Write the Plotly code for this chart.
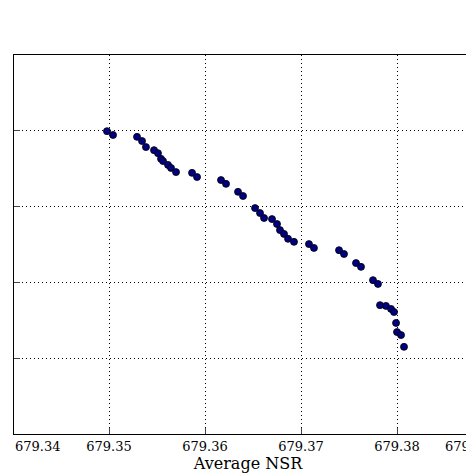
import plotly.graph_objects as go

avg_nsr = [679.34979, 679.35042, 679.35292, 679.35344, 679.35385, 679.35469, 679.35510,
           679.35542, 679.35563, 679.35615, 679.35646, 679.35698, 679.35865, 679.35917,
           679.36167, 679.36219, 679.36344, 679.36396, 679.36521, 679.36573, 679.36615,
           679.36698, 679.36750, 679.36781, 679.36823, 679.36865, 679.36927, 679.37083,
           679.37135, 679.37396, 679.37448, 679.37573, 679.37625, 679.37750, 679.37802,
           679.37823, 679.37885, 679.37938, 679.37969, 679.37990, 679.38000, 679.38042,
           679.38073]
y_vals = [0.799, 0.789, 0.784, 0.773, 0.757, 0.749, 0.741, 0.726, 0.720, 0.710, 0.702,
          0.691, 0.689, 0.678, 0.670, 0.660, 0.639, 0.628, 0.596, 0.583, 0.570, 0.567,
          0.554, 0.538, 0.528, 0.515, 0.507, 0.501, 0.491, 0.485, 0.475, 0.451, 0.441,
          0.406, 0.396, 0.340, 0.338, 0.330, 0.322, 0.293, 0.269, 0.261, 0.230]
x_ticks = [679.34, 679.35, 679.36, 679.37, 679.38, 679.39]

x0 = 679.34 + 1 / 9600
x1 = 679.34 + 469 / 9600

fig = go.Figure(go.Scatter(
    x=avg_nsr, y=y_vals, mode="markers",
    marker=dict(size=7, color="#000080", line=dict(color="black", width=0.8)),
))
# clipped edge tick labels, as in the cropped original
edge = []
for v in (x_ticks[0], x_ticks[-1]):
    edge.append(dict(
        x=(v - x0) / (x1 - x0), y=0, xref="paper", yref="paper",
        yanchor="top", yshift=-3, text=f"{v:.2f}", showarrow=False,
        font=dict(family="DejaVu Serif", size=13, color="black"),
    ))
fig.update_layout(
    width=474, height=474,
    margin=dict(l=6, r=0, t=47, b=48, autoexpand=False),
    paper_bgcolor="white", plot_bgcolor="white",
    font=dict(family="DejaVu Serif", size=13, color="black"),
    showlegend=False,
    annotations=edge,
)
fig.update_xaxes(
    range=[x0, x1], automargin=False,
    tickvals=x_ticks, ticktext=[f"{v:.2f}" for v in x_ticks],
    showgrid=True, gridcolor="black", griddash="1px,3px", gridwidth=0.8,
    showline=True, linecolor="black", mirror=True, linewidth=1,
    ticks="inside", ticklen=6, zeroline=False,
    title=dict(text="Average NSR", standoff=4),
)
fig.update_yaxes(
    range=[0, 1], tickvals=[0.2, 0.4, 0.6, 0.8], showticklabels=False,
    automargin=False,
    showgrid=True, gridcolor="black", griddash="1px,3px", gridwidth=0.8,
    showline=True, linecolor="black", mirror=True, linewidth=1,
    ticks="inside", ticklen=6, zeroline=False,
)
fig.write_html("out.html")
